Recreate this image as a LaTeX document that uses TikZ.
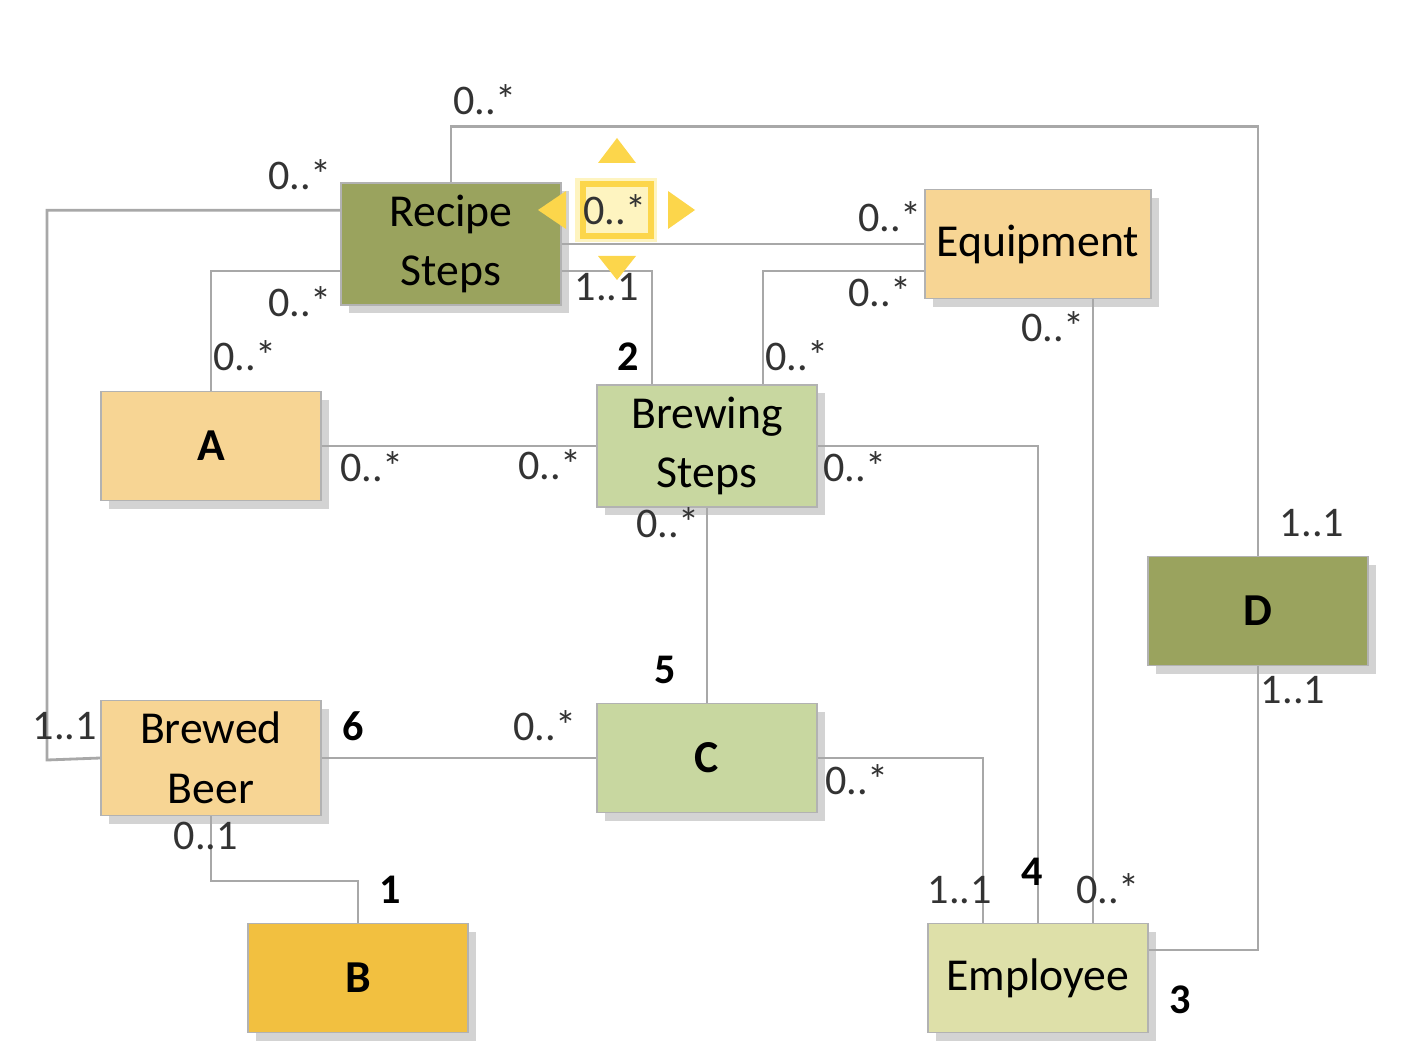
\documentclass[tikz,border=0pt]{standalone}
\usepackage{fontspec}
\setmainfont{Carlito}
\usetikzlibrary{positioning,shadows}
\definecolor{olive}{HTML}{9AA35E}
\definecolor{peach}{HTML}{F7D594}
\definecolor{sage}{HTML}{C8D7A0}
\definecolor{gold}{HTML}{F2C040}
\definecolor{pale}{HTML}{DEE0A9}
\definecolor{wire}{HTML}{A8A8A8}
\begin{document}
\begin{tikzpicture}[x=0.01cm, y=-0.01cm,
    entity/.style={rectangle, draw=gray!60, minimum width=2.2cm, minimum height=1.09cm,
      align=center, font=\fontsize{13}{17}\selectfont, drop shadow={opacity=0.35}},
    link/.style={draw=wire, line width=0.8pt},
    mult/.style={font=\fontsize{12}{14}\selectfont, text=black!80},
    tag/.style={font=\bfseries\fontsize{12}{14}\selectfont}]
    \useasboundingbox (0,0) rectangle (1424,1055);

    \node[entity, fill=olive] (recipe) at (451,244) {Recipe\\Steps};
    \node[entity, fill=peach] (equip) at (1038,244) {Equipment};
    \node[entity, fill=peach] (a) at (211,446) {\textbf{A}};
    \node[entity, fill=sage] (brew) at (707,446) {Brewing\\Steps};
    \node[entity, fill=olive] (d) at (1258,611) {\textbf{D}};
    \node[entity, fill=peach] (beer) at (211,758) {Brewed\\Beer};
    \node[entity, fill=sage] (c) at (707,758) {\textbf{C}};
    \node[entity, fill=gold] (b) at (358,978) {\textbf{B}};
    \node[entity, fill=pale] (emp) at (1038,978) {Employee};

    % connectors
    \draw[link] (recipe.north) -- ++(0,-56) -| (d.north);
    \draw[link] ([yshift=-0.28cm]recipe.north west) -| (47,760) -- (beer.west);
    \draw[link] (recipe.east) -- (equip.west);
    \draw[link] ([yshift=-0.27cm]recipe.west) -| (a.north);
    \draw[link] ([yshift=-0.27cm]recipe.east) -| ([xshift=-0.55cm]brew.north);
    \draw[link] ([yshift=-0.27cm]equip.west) -| ([xshift=0.56cm]brew.north);
    \draw[link] ([xshift=0.55cm]equip.south) -- ([xshift=0.55cm]emp.north);
    \draw[link] (a.east) -- (brew.west);
    \draw[link] (brew.east) -| (emp.north);
    \draw[link] (brew.south) -- (c.north);
    \draw[link] (beer.east) -- (c.west);
    \draw[link] (c.east) -| ([xshift=-0.55cm]emp.north);
    \draw[link] (beer.south) |- (358,881) -- (b.north);
    \draw[link] ([yshift=0.28cm]emp.east) -| (d.south);

    % selection marker
    \fill[yellow!70!orange, opacity=0.25] (575,178) rectangle (657,242);
    \draw[yellow!60!orange!70, line width=1.5pt] (583,184) rectangle (651,236);
    \fill[yellow!60!orange!70] (598,163) -- (636,163) -- (617,138) -- cycle;
    \fill[yellow!60!orange!70] (598,256) -- (636,256) -- (617,280) -- cycle;
    \fill[yellow!60!orange!70] (566,191) -- (566,229) -- (538,210) -- cycle;
    \fill[yellow!60!orange!70] (668,191) -- (668,229) -- (695,210) -- cycle;

    % multiplicities
    \node[mult] (m1) at (485,100) {0..*};
    \node[mult] (m2) at (1312,523) {1..1};
    \node[mult] (m3) at (300,175) {0..*};
    \node[mult] (m4) at (65,726) {1..1};
    \node[mult] (m5) at (615,210) {0..*};
    \node[mult] (m6) at (890,217) {0..*};
    \node[mult] (m7) at (300,302) {0..*};
    \node[mult] (m8) at (245,356) {0..*};
    \node[mult] (m9) at (607,287) {1..1};
    \node[mult] (m10) at (880,292) {0..*};
    \node[mult] (m11) at (797,356) {0..*};
    \node[mult] (m12) at (1053,327) {0..*};
    \node[mult] (m13) at (1108,889) {0..*};
    \node[mult] (m14) at (372,467) {0..*};
    \node[mult] (m15) at (550,465) {0..*};
    \node[mult] (m16) at (855,467) {0..*};
    \node[mult] (m17) at (668,523) {0..*};
    \node[mult] (m18) at (545,726) {0..*};
    \node[mult] (m19) at (857,780) {0..*};
    \node[mult] (m20) at (960,890) {1..1};
    \node[mult] (m21) at (206,836) {0..1};
    \node[mult] (m22) at (1293,690) {1..1};

    % numbers
    \node[tag] (t1) at (390,890) {1};
    \node[tag] (t2) at (628,357) {2};
    \node[tag] (t3) at (1180,1000) {3};
    \node[tag] (t4) at (1032,872) {4};
    \node[tag] (t5) at (665,670) {5};
    \node[tag] (t6) at (353,726) {6};
\end{tikzpicture}
\end{document}
